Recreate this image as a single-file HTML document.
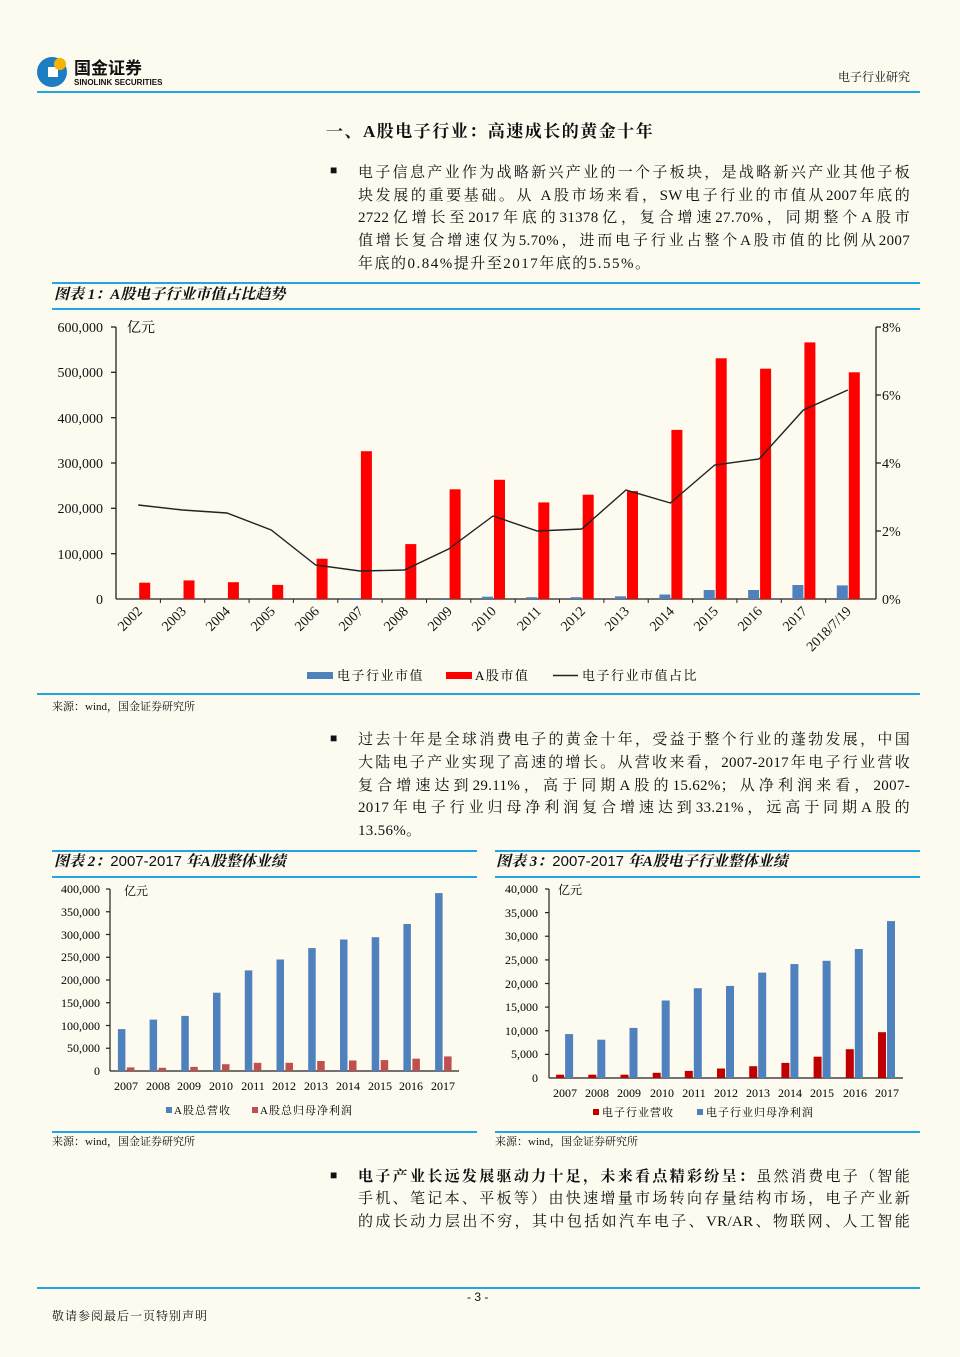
<!DOCTYPE html>
<html><head><meta charset="utf-8">
<style>
body{margin:0;background:#fdfaf0;}
#pg{position:relative;width:960px;height:1357px;background:#fdfaf0;overflow:hidden;font-family:"Liberation Serif","Noto Serif CJK SC",serif;color:#111;}
.a{position:absolute;white-space:nowrap;}
.ln{position:absolute;height:0;border-top:2px solid #1fa6e3;}
.p{position:absolute;left:358px;width:552px;font-size:15px;text-align:justify;text-align-last:justify;white-space:nowrap;letter-spacing:0.3px;}
.ft{font-style:italic;font-weight:bold;font-size:15px;}
</style></head><body><div id="pg">
<svg class="a" style="left:36px;top:54px" width="140" height="36">
<circle cx="16" cy="18" r="15" fill="#1c7dc2"/><rect x="12" y="13" width="10" height="10" fill="#fff"/><circle cx="24" cy="10" r="6" fill="#f5b400"/>
<text x="38" y="20" font-family="Noto Sans CJK SC,sans-serif" font-weight="bold" font-size="17" fill="#111">国金证券</text>
<text x="38" y="31" font-family="Liberation Sans,sans-serif" font-weight="bold" font-size="8" fill="#111">SINOLINK SECURITIES</text>
</svg>
<div class="a" style="right:50px;top:68px;font-size:12px">电子行业研究</div>
<div class="ln" style="left:37px;width:883px;top:91px"></div>
<div class="a" style="left:326px;top:117px;font-size:17px;font-weight:bold;letter-spacing:1.5px">一、A股电子行业：高速成长的黄金十年</div>

<div class="a" style="left:330px;top:163px;font-size:12px">■</div>
<div class="p" style="top:161px">电子信息产业作为战略新兴产业的一个子板块，是战略新兴产业其他子板</div>
<div class="p" style="top:184px">块发展的重要基础。从 A股市场来看，SW电子行业的市值从2007年底的</div>
<div class="p" style="top:206px">2722亿增长至2017年底的31378亿，复合增速27.70%，同期整个A股市</div>
<div class="p" style="top:229px">值增长复合增速仅为5.70%，进而电子行业占整个A股市值的比例从2007</div>
<div class="p" style="top:252px;text-align-last:left;letter-spacing:1.5px">年底的0.84%提升至2017年底的5.55%。</div>

<div class="ln" style="left:52px;width:868px;top:282px"></div>
<div class="a ft" style="left:54px;top:283px">图表 1：A股电子行业市值占比趋势</div>
<div class="ln" style="left:52px;width:868px;top:308px"></div>

<svg class="a" style="left:0;top:300px" width="960" height="400" font-family="Liberation Serif,Noto Serif CJK SC,serif">
<g transform="translate(0,-300)">
<g font-size="14" text-anchor="end" fill="#111">
<text x="103" y="332">600,000</text><text x="103" y="377">500,000</text><text x="103" y="423">400,000</text><text x="103" y="468">300,000</text><text x="103" y="513">200,000</text><text x="103" y="559">100,000</text><text x="103" y="604">0</text>
</g>
<text x="127" y="332" font-size="14">亿元</text>
<g font-size="14" fill="#111"><text x="882" y="332">8%</text><text x="882" y="400">6%</text><text x="882" y="468">4%</text><text x="882" y="536">2%</text><text x="882" y="604">0%</text></g>
<g stroke="#222" stroke-width="1.3">
<line x1="116" y1="327" x2="116" y2="599"/><line x1="876" y1="327" x2="876" y2="599"/><line x1="116" y1="599" x2="876" y2="599"/>
<line x1="111" y1="327" x2="116" y2="327"/><line x1="111" y1="372.3" x2="116" y2="372.3"/><line x1="111" y1="417.7" x2="116" y2="417.7"/><line x1="111" y1="463" x2="116" y2="463"/><line x1="111" y1="508.3" x2="116" y2="508.3"/><line x1="111" y1="553.7" x2="116" y2="553.7"/>
<line x1="876" y1="327" x2="881" y2="327"/><line x1="876" y1="395" x2="881" y2="395"/><line x1="876" y1="463" x2="881" y2="463"/><line x1="876" y1="531" x2="881" y2="531"/>
</g>
<g fill="#ff0000">
<rect x="139.2" y="582.7" width="11" height="16.3"/><rect x="183.5" y="580.4" width="11" height="18.6"/><rect x="227.9" y="582.2" width="11" height="16.8"/><rect x="272.2" y="584.9" width="11" height="14.1"/><rect x="316.6" y="558.7" width="11" height="40.3"/><rect x="360.9" y="451.2" width="11" height="147.8"/><rect x="405.3" y="544.1" width="11" height="54.9"/><rect x="449.6" y="489.3" width="11" height="109.7"/><rect x="494" y="479.8" width="11" height="119.2"/><rect x="538.3" y="502.4" width="11" height="96.6"/><rect x="582.7" y="494.7" width="11" height="104.3"/><rect x="627" y="491.1" width="11" height="107.9"/><rect x="671.4" y="429.9" width="11" height="169.1"/><rect x="715.7" y="358.3" width="11" height="240.7"/><rect x="760.1" y="368.7" width="11" height="230.3"/><rect x="804.4" y="342.4" width="11" height="256.6"/><rect x="848.8" y="372.3" width="11" height="226.7"/>
</g>
<g fill="#4f81bd">
<rect x="348.9" y="598" width="11" height="1"/><rect x="437.6" y="598" width="11" height="1"/><rect x="482" y="596.7" width="11" height="2.3"/><rect x="526.3" y="597.2" width="11" height="1.8"/><rect x="570.7" y="597.2" width="11" height="1.8"/><rect x="615" y="596.3" width="11" height="2.7"/><rect x="659.4" y="594.5" width="11" height="4.5"/><rect x="703.7" y="590" width="11" height="9"/><rect x="748.1" y="590" width="11" height="9"/><rect x="792.4" y="585" width="11" height="14"/><rect x="836.8" y="585.4" width="11" height="13.6"/>
</g>
<g stroke="#222" stroke-width="1"><line x1="160.4" y1="599" x2="160.4" y2="603"/><line x1="204.7" y1="599" x2="204.7" y2="603"/><line x1="249.1" y1="599" x2="249.1" y2="603"/><line x1="293.4" y1="599" x2="293.4" y2="603"/><line x1="337.8" y1="599" x2="337.8" y2="603"/><line x1="382.1" y1="599" x2="382.1" y2="603"/><line x1="426.5" y1="599" x2="426.5" y2="603"/><line x1="470.8" y1="599" x2="470.8" y2="603"/><line x1="515.2" y1="599" x2="515.2" y2="603"/><line x1="559.5" y1="599" x2="559.5" y2="603"/><line x1="603.9" y1="599" x2="603.9" y2="603"/><line x1="648.2" y1="599" x2="648.2" y2="603"/><line x1="692.6" y1="599" x2="692.6" y2="603"/><line x1="736.9" y1="599" x2="736.9" y2="603"/><line x1="781.3" y1="599" x2="781.3" y2="603"/><line x1="825.6" y1="599" x2="825.6" y2="603"/></g>
<polyline fill="none" stroke="#222" stroke-width="1.4" points="138.2,505 182.5,510 226.9,513 271.2,530 315.6,565 359.9,571 404.3,570 448.6,549 493,516 537.3,531 581.7,529 626,490 670.4,503 714.7,465 759.1,459 803.4,410 847.8,390"/>
<g font-size="14" text-anchor="end" fill="#111">
<text transform="translate(143,612) rotate(-45)">2002</text><text transform="translate(187,612) rotate(-45)">2003</text><text transform="translate(231,612) rotate(-45)">2004</text><text transform="translate(276,612) rotate(-45)">2005</text><text transform="translate(320,612) rotate(-45)">2006</text><text transform="translate(364,612) rotate(-45)">2007</text><text transform="translate(409,612) rotate(-45)">2008</text><text transform="translate(453,612) rotate(-45)">2009</text><text transform="translate(497,612) rotate(-45)">2010</text><text transform="translate(542,612) rotate(-45)">2011</text><text transform="translate(586,612) rotate(-45)">2012</text><text transform="translate(630,612) rotate(-45)">2013</text><text transform="translate(675,612) rotate(-45)">2014</text><text transform="translate(719,612) rotate(-45)">2015</text><text transform="translate(763,612) rotate(-45)">2016</text><text transform="translate(808,612) rotate(-45)">2017</text><text transform="translate(852,612) rotate(-45)">2018/7/19</text>
</g>
<rect x="307" y="672" width="26" height="7" fill="#4f81bd"/><text x="337" y="680" font-size="13" letter-spacing="1.5">电子行业市值</text>
<rect x="446" y="672" width="26" height="7" fill="#ff0000"/><text x="475" y="680" font-size="13" letter-spacing="1.5">A股市值</text>
<line x1="553" y1="675.5" x2="578" y2="675.5" stroke="#222" stroke-width="1.4"/><text x="582" y="680" font-size="13" letter-spacing="1.5">电子行业市值占比</text>
</g></svg>
<div class="ln" style="left:37px;width:883px;top:693px"></div>
<div class="a" style="left:52px;top:698px;font-size:11px">来源：wind，国金证券研究所</div>

<div class="a" style="left:330px;top:731px;font-size:12px">■</div>
<div class="p" style="top:728px">过去十年是全球消费电子的黄金十年，受益于整个行业的蓬勃发展，中国</div>
<div class="p" style="top:751px">大陆电子产业实现了高速的增长。从营收来看，2007-2017年电子行业营收</div>
<div class="p" style="top:774px">复合增速达到29.11%，高于同期A股的15.62%；从净利润来看，2007-</div>
<div class="p" style="top:796px">2017年电子行业归母净利润复合增速达到33.21%，远高于同期A股的</div>
<div class="p" style="top:819px;text-align-last:left">13.56%。</div>

<div class="ln" style="left:52px;width:425px;top:850px"></div>
<div class="ln" style="left:495px;width:425px;top:850px"></div>
<div class="a ft" style="left:54px;top:850px">图表 2：<span style="font-family:'Liberation Sans',sans-serif;font-style:normal;font-weight:normal">2007-2017</span> 年A股整体业绩</div>
<div class="a ft" style="left:496px;top:850px">图表 3：<span style="font-family:'Liberation Sans',sans-serif;font-style:normal;font-weight:normal">2007-2017</span> 年A股电子行业整体业绩</div>
<div class="ln" style="left:52px;width:425px;top:876px"></div>
<div class="ln" style="left:495px;width:425px;top:876px"></div>

<svg class="a" style="left:0;top:880px" width="960" height="250" font-family="Liberation Serif,Noto Serif CJK SC,serif">
<g transform="translate(0,-880)">
<g font-size="12" text-anchor="end"><text x="100" y="893">400,000</text><text x="100" y="916">350,000</text><text x="100" y="939">300,000</text><text x="100" y="961">250,000</text><text x="100" y="984">200,000</text><text x="100" y="1007">150,000</text><text x="100" y="1030">100,000</text><text x="100" y="1052">50,000</text><text x="100" y="1075">0</text></g>
<text x="124" y="895" font-size="12">亿元</text>
<g stroke="#222" stroke-width="1.2"><line x1="110" y1="889" x2="110" y2="1071"/><line x1="110" y1="1071" x2="459" y2="1071"/>
<line x1="106" y1="889" x2="110" y2="889"/><line x1="106" y1="911.75" x2="110" y2="911.75"/><line x1="106" y1="934.5" x2="110" y2="934.5"/><line x1="106" y1="957.25" x2="110" y2="957.25"/><line x1="106" y1="980" x2="110" y2="980"/><line x1="106" y1="1002.75" x2="110" y2="1002.75"/><line x1="106" y1="1025.5" x2="110" y2="1025.5"/><line x1="106" y1="1048.25" x2="110" y2="1048.25"/></g>
<g fill="#4f81bd"><rect x="117.9" y="1029.1" width="7.5" height="41.9"/><rect x="149.6" y="1019.6" width="7.5" height="51.4"/><rect x="181.3" y="1015.9" width="7.5" height="55.1"/><rect x="213" y="992.7" width="7.5" height="78.3"/><rect x="244.8" y="970.4" width="7.5" height="100.6"/><rect x="276.5" y="959.5" width="7.5" height="111.5"/><rect x="308.2" y="948.1" width="7.5" height="122.9"/><rect x="340" y="939.5" width="7.5" height="131.5"/><rect x="371.7" y="937.2" width="7.5" height="133.8"/><rect x="403.4" y="924" width="7.5" height="147"/><rect x="435.1" y="893.1" width="7.5" height="177.9"/></g>
<g fill="#c0504d"><rect x="126.9" y="1067.4" width="7.5" height="3.6"/><rect x="158.6" y="1067.8" width="7.5" height="3.2"/><rect x="190.3" y="1066.9" width="7.5" height="4.1"/><rect x="222" y="1064.2" width="7.5" height="6.8"/><rect x="253.8" y="1062.8" width="7.5" height="8.2"/><rect x="285.5" y="1062.8" width="7.5" height="8.2"/><rect x="317.2" y="1061" width="7.5" height="10"/><rect x="349" y="1060.5" width="7.5" height="10.5"/><rect x="380.7" y="1060.1" width="7.5" height="10.9"/><rect x="412.4" y="1058.7" width="7.5" height="12.3"/><rect x="444.1" y="1056.4" width="7.5" height="14.6"/></g>
<g font-size="12" text-anchor="middle"><text x="126" y="1090">2007</text><text x="158" y="1090">2008</text><text x="189" y="1090">2009</text><text x="221" y="1090">2010</text><text x="253" y="1090">2011</text><text x="284" y="1090">2012</text><text x="316" y="1090">2013</text><text x="348" y="1090">2014</text><text x="380" y="1090">2015</text><text x="411" y="1090">2016</text><text x="443" y="1090">2017</text></g>
<rect x="166" y="1107" width="6" height="6" fill="#4f81bd"/><text x="174" y="1114" font-size="11" letter-spacing="1">A股总营收</text>
<rect x="252" y="1107" width="6" height="6" fill="#c0504d"/><text x="260" y="1114" font-size="11" letter-spacing="1">A股总归母净利润</text>
<g font-size="12" text-anchor="end"><text x="538" y="893">40,000</text><text x="538" y="917">35,000</text><text x="538" y="940">30,000</text><text x="538" y="964">25,000</text><text x="538" y="988">20,000</text><text x="538" y="1011">15,000</text><text x="538" y="1035">10,000</text><text x="538" y="1058">5,000</text><text x="538" y="1082">0</text></g>
<text x="558" y="894" font-size="12">亿元</text>
<g stroke="#222" stroke-width="1.2"><line x1="549" y1="889" x2="549" y2="1078"/><line x1="549" y1="1078" x2="903" y2="1078"/>
<line x1="545" y1="889" x2="549" y2="889"/><line x1="545" y1="912.6" x2="549" y2="912.6"/><line x1="545" y1="936.25" x2="549" y2="936.25"/><line x1="545" y1="959.9" x2="549" y2="959.9"/><line x1="545" y1="983.5" x2="549" y2="983.5"/><line x1="545" y1="1007.1" x2="549" y2="1007.1"/><line x1="545" y1="1030.75" x2="549" y2="1030.75"/><line x1="545" y1="1054.4" x2="549" y2="1054.4"/></g>
<g fill="#c00000"><rect x="556.1" y="1074.7" width="8" height="3.3"/><rect x="588.3" y="1074.7" width="8" height="3.3"/><rect x="620.5" y="1074.7" width="8" height="3.3"/><rect x="652.7" y="1072.8" width="8" height="5.2"/><rect x="684.8" y="1070.9" width="8" height="7.1"/><rect x="717" y="1068.5" width="8" height="9.5"/><rect x="749.2" y="1066.2" width="8" height="11.8"/><rect x="781.4" y="1062.9" width="8" height="15.1"/><rect x="813.6" y="1056.7" width="8" height="21.3"/><rect x="845.8" y="1049.2" width="8" height="28.8"/><rect x="878" y="1032.2" width="8" height="45.8"/></g>
<g fill="#4f81bd"><rect x="565.1" y="1034.1" width="8" height="43.9"/><rect x="597.3" y="1039.7" width="8" height="38.3"/><rect x="629.5" y="1027.9" width="8" height="50.1"/><rect x="661.7" y="1000.5" width="8" height="77.5"/><rect x="693.8" y="988.2" width="8" height="89.8"/><rect x="726" y="985.9" width="8" height="92.1"/><rect x="758.2" y="972.6" width="8" height="105.4"/><rect x="790.4" y="964.1" width="8" height="113.9"/><rect x="822.6" y="960.8" width="8" height="117.2"/><rect x="854.8" y="949" width="8" height="129"/><rect x="887" y="921.1" width="8" height="156.9"/></g>
<g font-size="12" text-anchor="middle"><text x="565" y="1097">2007</text><text x="597" y="1097">2008</text><text x="629" y="1097">2009</text><text x="662" y="1097">2010</text><text x="694" y="1097">2011</text><text x="726" y="1097">2012</text><text x="758" y="1097">2013</text><text x="790" y="1097">2014</text><text x="822" y="1097">2015</text><text x="855" y="1097">2016</text><text x="887" y="1097">2017</text></g>
<rect x="593" y="1109" width="6" height="6" fill="#c00000"/><text x="602" y="1116" font-size="11" letter-spacing="1">电子行业营收</text>
<rect x="697" y="1109" width="6" height="6" fill="#4f81bd"/><text x="706" y="1116" font-size="11" letter-spacing="1">电子行业归母净利润</text>
</g></svg>
<div class="ln" style="left:52px;width:425px;top:1131px"></div>
<div class="ln" style="left:495px;width:425px;top:1131px"></div>
<div class="a" style="left:52px;top:1133px;font-size:11px">来源：wind，国金证券研究所</div>
<div class="a" style="left:495px;top:1133px;font-size:11px">来源：wind，国金证券研究所</div>

<div class="a" style="left:330px;top:1168px;font-size:12px">■</div>
<div class="p" style="top:1165px"><b>电子产业长远发展驱动力十足，未来看点精彩纷呈：</b>虽然消费电子（智能</div>
<div class="p" style="top:1187px">手机、笔记本、平板等）由快速增量市场转向存量结构市场，电子产业新</div>
<div class="p" style="top:1210px">的成长动力层出不穷，其中包括如汽车电子、VR/AR、物联网、人工智能</div>

<div class="ln" style="left:37px;width:883px;top:1287px"></div>
<div class="a" style="left:467px;top:1290px;font-size:12px;font-family:'Liberation Sans',sans-serif">- 3 -</div>
<div class="a" style="left:52px;top:1307px;font-size:12px;letter-spacing:1px">敬请参阅最后一页特别声明</div>
</div></body></html>
